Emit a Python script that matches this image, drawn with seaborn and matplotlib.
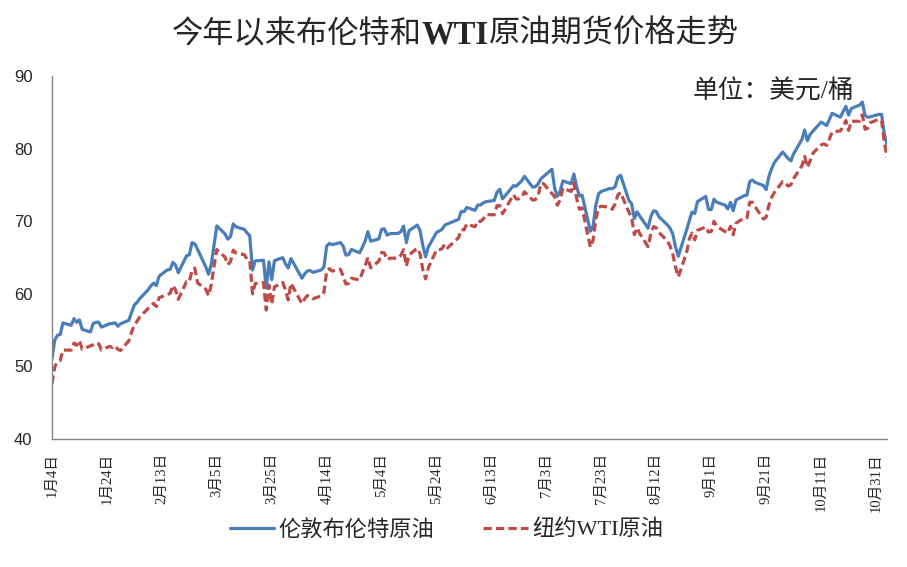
import numpy as np
import pandas as pd
import matplotlib.pyplot as plt
import seaborn as sns

# Daily settlement prices 2021 (USD/bbl), weekdays per month, nan = no settlement
brent_jan = [51.09, 53.60, 54.30, 54.38, 55.99, 55.66, 56.58, 56.06, 56.42, 55.10,
             54.75, 55.90, 56.08, 56.10, 55.41, 55.88, 55.91, 56.00, 55.53, 55.88]
brent_feb = [56.35, 57.46, 58.46, 58.84, 59.34, 60.56, 61.09, 61.47, 61.14, 62.43,
             63.30, 63.35, 64.34, 63.93, 62.91, 65.24, 65.37, 67.04, 66.88, 66.13]
brent_mar = [63.69, 62.70, 64.07, 66.74, 69.36, 68.24, 67.52, 67.90, 69.63, 69.22,
             68.88, 68.39, 68.00, 63.28, 64.53, 64.62, 60.79, 64.41, 61.95, 64.57,
             64.98, 64.14, 63.54]
brent_apr = [64.86, np.nan, 62.15, 62.74, 63.16, 63.20, 62.95, 63.28, 63.67, 66.58,
             66.94, 66.77, 67.05, 66.57, 65.32, 65.40, 66.11, 65.65, 66.42, 67.27,
             68.56, 67.25]
brent_may = [67.56, 68.88, 68.96, 68.09, 68.28, 68.32, 68.55, 69.32, 67.05, 68.71,
             69.46, 68.71, 66.66, 65.11, 66.44, 68.46, 68.65, 68.87, 69.46, 69.63,
             np.nan]
brent_jun = [70.25, 71.35, 71.31, 71.89, 71.49, 72.22, 72.22, 72.52, 72.69, 72.86,
             73.99, 74.39, 73.08, 73.51, 74.90, 74.81, 75.19, 75.56, 76.18, 74.68,
             74.76, 75.13]
brent_jul = [75.84, 76.17, 77.16, 74.53, 73.43, 74.12, 75.55, 75.16, 76.49, 74.76,
             73.47, 73.59, 68.62, 69.35, 72.23, 73.79, 74.10, 74.50, 74.48, 74.74,
             76.05, 76.33]
brent_aug = [72.89, 72.41, 70.38, 71.29, 70.70, 69.04, 70.63, 71.44, 71.31, 70.59,
             69.51, 69.03, 68.23, 66.45, 65.18, 68.75, 70.05, 71.25, 71.07, 72.70,
             73.41, 71.63]
brent_sep = [71.59, 73.03, 72.61, 72.22, 71.69, 72.60, 71.45, 72.92, 73.51, 73.60,
             75.46, 75.67, 75.34, 74.92, 74.36, 76.19, 77.25, 78.09, 79.53, 79.09,
             78.64, 78.31]
brent_oct = [79.28, 81.26, 82.56, 81.08, 81.95, 82.39, 83.65, 83.42, 83.18, 84.00,
             84.86, 84.33, 85.08, 85.82, 84.61, 85.53, 85.99, 86.40, 84.58, 84.32,
             84.38]
brent_nov = [84.71, 84.72, 81.99, 80.54]

wti_jan = [47.62, 49.93, 50.63, 50.83, 52.24, 52.25, 53.21, 52.91, 53.57, 52.36,
           np.nan, 52.98, 53.24, 53.13, 52.27, 52.77, 52.61, 52.85, 52.34, 52.20]
wti_feb = [53.55, 54.76, 55.69, 56.23, 56.85, 57.97, 58.36, 58.68, 58.24, 59.47,
           np.nan, 60.05, 61.14, 60.52, 59.24, 61.70, 61.67, 63.22, 63.53, 61.50]
wti_mar = [60.64, 59.75, 61.28, 63.83, 66.09, 65.05, 64.01, 64.44, 66.02, 65.61,
           65.39, 64.80, 64.60, 60.00, 61.42, 61.55, 57.76, 61.18, 58.56, 60.97,
           61.56, 60.55, 59.16]
wti_apr = [61.45, np.nan, 58.65, 59.33, 59.77, 59.60, 59.32, 59.70, 60.18, 63.15,
           63.46, 63.13, 63.38, 62.44, 61.35, 61.43, 62.14, 61.91, 62.94, 63.86,
           65.01, 63.58]
wti_may = [64.49, 65.69, 65.63, 64.71, 64.90, 64.92, 65.28, 66.08, 63.82, 65.37,
           66.27, 65.49, 63.36, 62.05, 63.58, 66.05, 66.07, 66.21, 66.85, 66.32,
           np.nan]
wti_jun = [67.72, 68.83, 68.81, 69.62, 69.23, 70.05, 69.96, 70.29, 70.91, 70.88,
           72.12, 72.15, 71.04, 71.64, 73.66, 73.06, 73.08, 73.30, 74.05, 72.91,
           72.98, 73.47]
wti_jul = [75.23, 75.16, np.nan, 73.37, 72.20, 72.94, 74.56, 74.10, 75.25, 73.13,
           71.65, 71.81, 66.42, 67.42, 70.30, 71.91, 72.07, 71.91, 71.65, 72.39,
           73.62, 73.95]
wti_aug = [71.26, 70.56, 68.15, 69.09, 68.28, 66.48, 68.29, 69.25, 69.09, 68.44,
           67.29, 66.59, 65.46, 63.69, 62.32, 65.64, 67.54, 68.36, 67.42, 68.74,
           69.21, 68.50]
wti_sep = [68.59, 69.99, 69.29, np.nan, 68.35, 69.30, 68.14, 69.72, 70.45, 70.46,
           72.61, 72.61, 71.97, 70.29, 70.56, 72.23, 73.30, 73.98, 75.45, 75.29,
           74.83, 75.03]
wti_oct = [75.88, 77.62, 78.93, 77.43, 78.30, 79.35, 80.52, 80.64, 80.44, 81.31,
           82.28, 82.44, 82.96, 83.87, 82.50, 83.76, 83.76, 84.65, 82.66, 82.81,
           83.57]
wti_nov = [84.05, 83.91, 80.86, 78.81]

brent = (brent_jan + brent_feb + brent_mar + brent_apr + brent_may + brent_jun
         + brent_jul + brent_aug + brent_sep + brent_oct + brent_nov)
wti = (wti_jan + wti_feb + wti_mar + wti_apr + wti_may + wti_jun
       + wti_jul + wti_aug + wti_sep + wti_oct + wti_nov)
dates = pd.bdate_range("2021-01-04", "2021-11-04")
assert len(dates) == len(brent) == len(wti)

brent_label = "伦敦布伦特原油"
wti_label = "纽约WTI原油"
title_parts = ["今年以来布伦特和", "WTI", "原油期货价格走势"]
unit_text = "单位：美元/桶"
tick_dates = pd.date_range("2021-01-04", "2021-11-04", freq="20D")

df = pd.DataFrame({"date": dates, "brent": brent, "wti": wti})

sns.set_style("white")
plt.rcParams['font.family'] = ['Liberation Serif', 'Noto Sans CJK SC']

fig = plt.figure(figsize=(9.07, 5.67), dpi=100)
ax = fig.add_axes([0.0573, 0.2257, 0.9207, 0.6403])

b = df.dropna(subset=["brent"])
w = df.dropna(subset=["wti"])
sns.lineplot(x=b["date"], y=b["brent"], ax=ax, color="#4A7EBB", lw=2.3,
             label=brent_label)
sns.lineplot(x=w["date"], y=w["wti"], ax=ax, color="#BE4B48", lw=2.3,
             linestyle=(0, (2.6, 1.3)), label=wti_label)

ax.set_xlim(dates[0], dates[-1])
ax.set_ylim(40, 90)
ax.set_yticks(range(40, 91, 10))
ax.set_xticks(tick_dates)
ax.set_xticklabels([f"{d.month}月{d.day}日" for d in tick_dates], rotation=90,
                   fontsize=10.5)
for lbl in ax.get_yticklabels():
    lbl.set_fontfamily(['Liberation Sans Narrow', 'Liberation Sans'])
    lbl.set_fontsize(12)
ax.set_xlabel("")
ax.set_ylabel("")

for side in ["top", "right"]:
    ax.spines[side].set_visible(False)
for side in ["left", "bottom"]:
    ax.spines[side].set_color("#868686")
    ax.spines[side].set_linewidth(1)
ax.tick_params(axis="x", direction="in", length=5, color="#868686", pad=10)
ax.tick_params(axis="y", length=0, pad=14)

# title with bold WTI
t1 = fig.text(172 / 907, 1 - 43 / 567, title_parts[0], fontsize=22.5)
t2 = ax.annotate(title_parts[1], xy=(1, 0), xycoords=t1, fontsize=23.5,
                 fontweight="bold", va="bottom", annotation_clip=False)
ax.annotate(title_parts[2], xy=(1, 0), xycoords=t2, fontsize=22.5, va="bottom",
            annotation_clip=False)

fig.text(693 / 907, 1 - 99 / 567, unit_text, fontsize=18.5)

ax.legend_.remove()
handles, labels = ax.get_legend_handles_labels()
fig.legend(handles, labels, loc="center", bbox_to_anchor=(0.492, 1 - 530 / 567),
           ncol=2, frameon=False, fontsize=16, handlelength=2.0,
           handletextpad=0.2, columnspacing=2.2)

fig.savefig("out.png", dpi=100)
